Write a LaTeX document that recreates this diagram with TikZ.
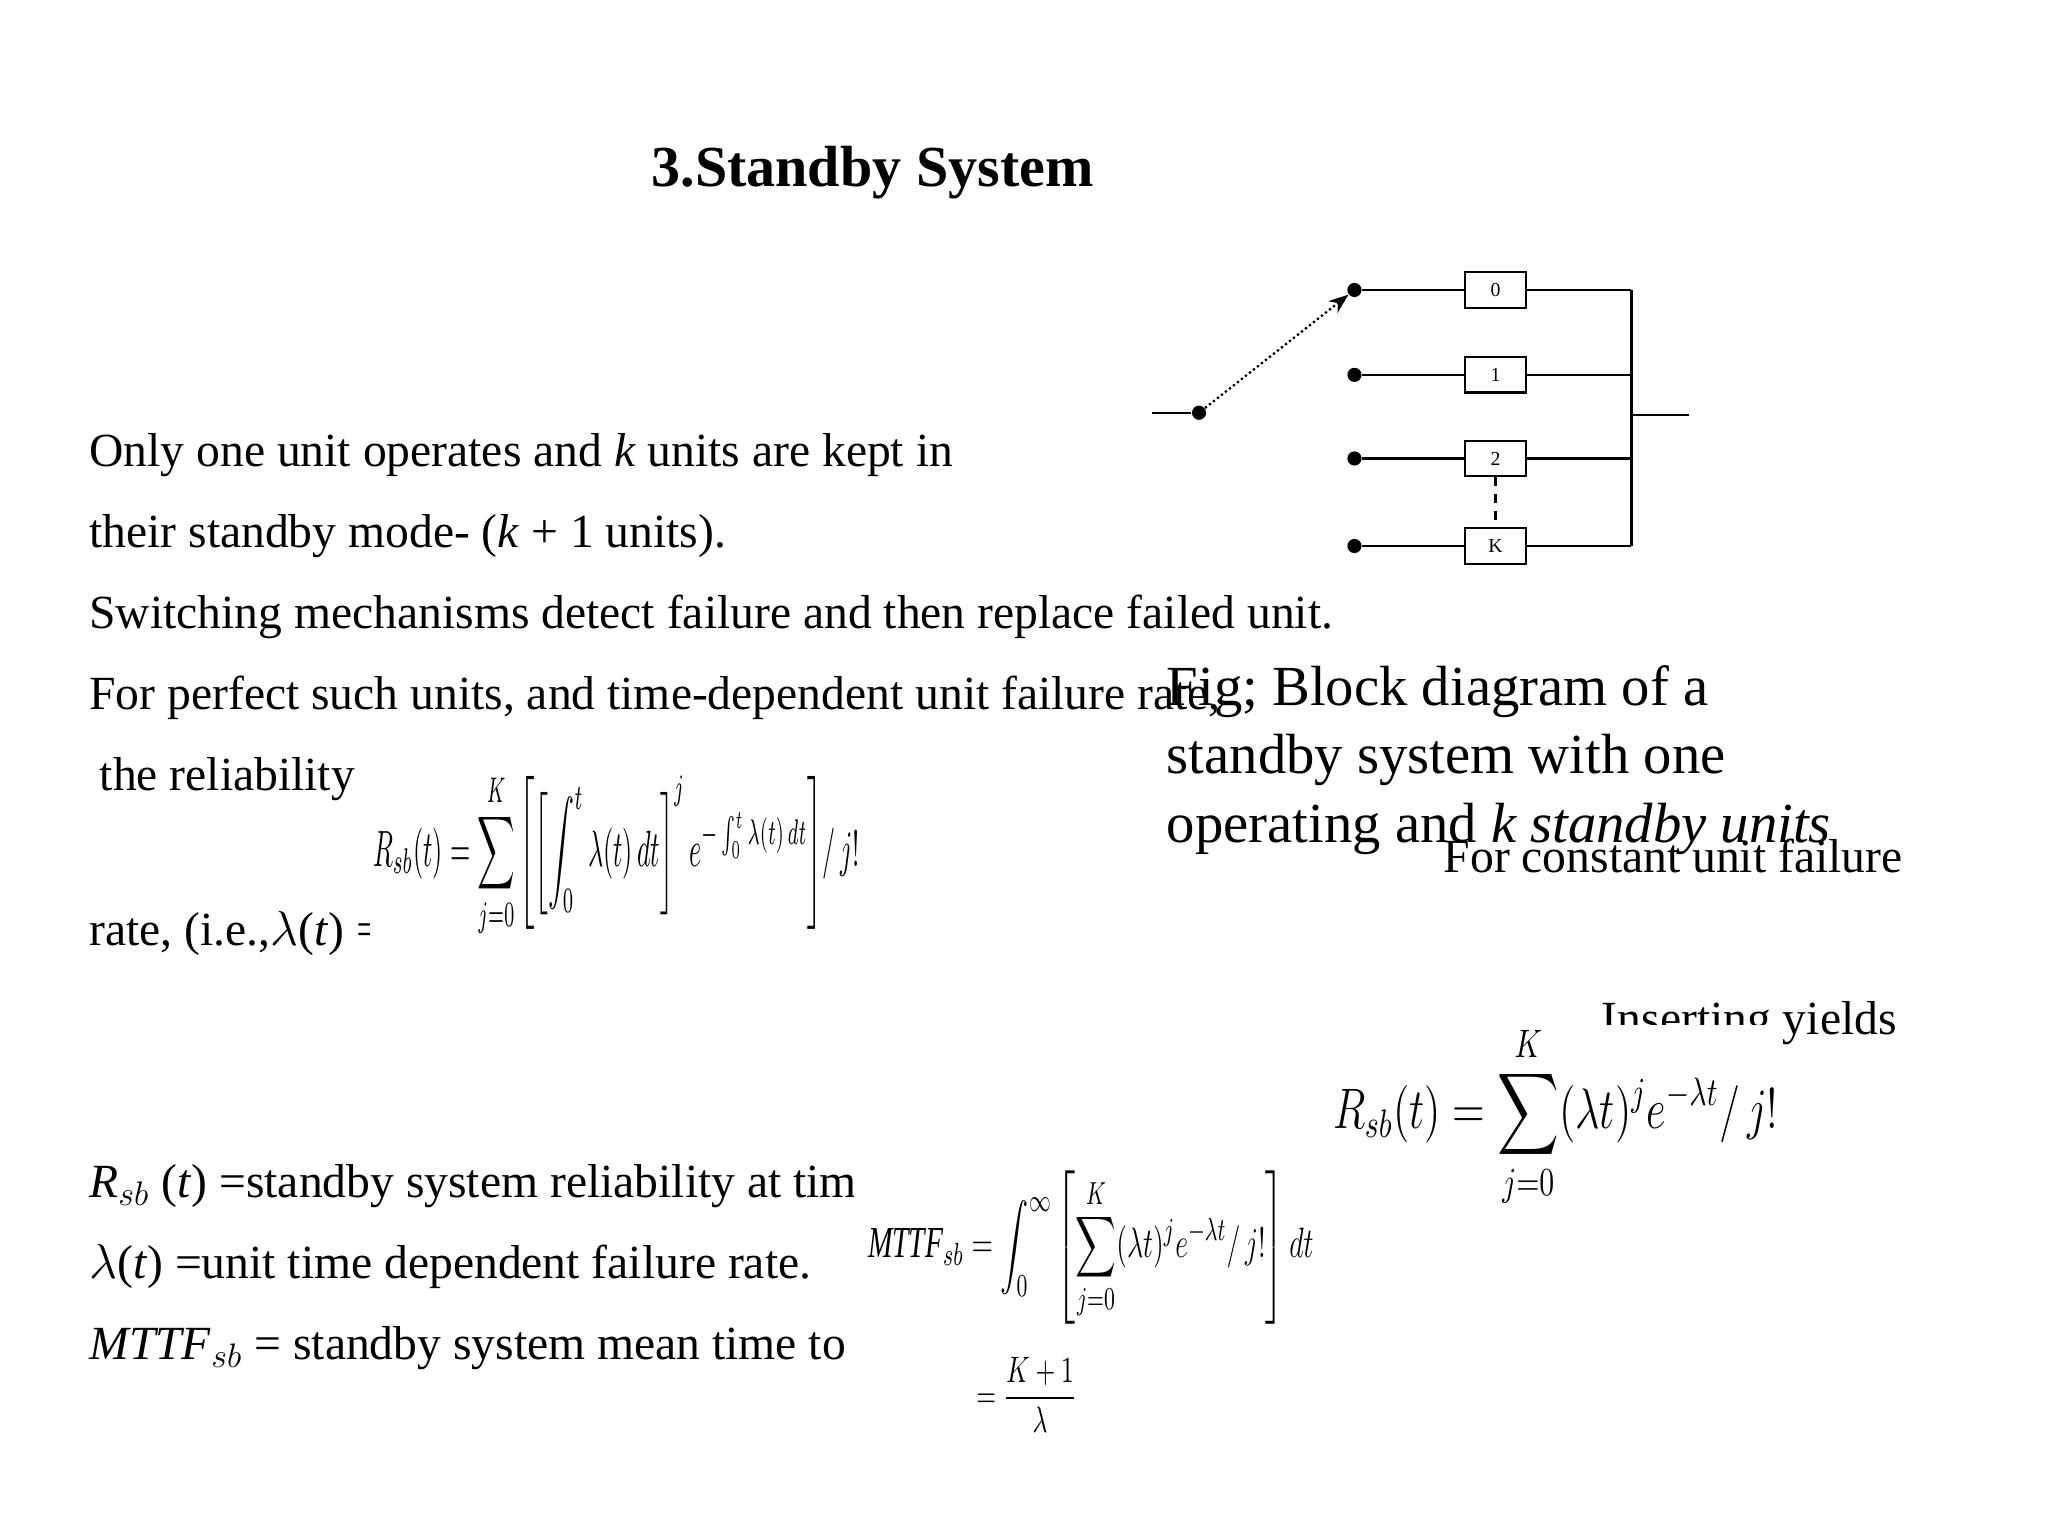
\documentclass[tikz,border=0pt]{standalone}
\usepackage{fontspec}
\setmainfont{Liberation Serif}
\usepackage{amsmath}
\usepackage{graphicx}
\usetikzlibrary{arrows.meta}
\usetikzlibrary{positioning}

\tikzset{
    body/.style={anchor=base west,inner sep=0pt,font=\fontsize{16.8}{20}\selectfont},
    caption/.style={anchor=base west,inner sep=0pt,font=\fontsize{20}{24}\selectfont},
    formula/.style={fill=white,inner sep=1pt},
    unit/.style={draw,thick,minimum width=0.76cm,minimum height=0.44cm,inner sep=0pt,font=\scriptsize},
    pin/.style={circle,fill,inner sep=0pt,minimum size=5pt},
}

\begin{document}
\begin{tikzpicture}[x=0.016199cm,y=-0.016199cm]
    \useasboundingbox (0,0) rectangle (1568,1176);

    \node[anchor=base,inner sep=0pt,font=\fontsize{20.5}{24}\selectfont\bfseries] (title) at (668,143) {3.Standby System};

    % text on the left
    \node[body] (l1) at (68,357) {Only one unit operates and \textit{k} units are kept in};
    \node[body] (l2) at (68,419) {their standby mode- (\textit{k} + 1 units).};
    \node[body] (l3) at (68,481) {Switching mechanisms detect failure and then replace failed unit.};
    \node[body] (l4) at (68,543) {For perfect such units, and time-dependent unit failure rate,};
    \node[body] (l5) at (76,605) {the reliability};
    \node[body] (l6) at (68,724) {rate, (i.e.,$\lambda$(\textit{t}) =};
    \node[body] (l7) at (68,917) {\textit{R}$_{sb}$ (\textit{t}) =standby system reliability at time};
    \node[body] (l8) at (68,979) {$\lambda$(\textit{t}) =unit time dependent failure rate.};
    \node[body] (l9) at (68,1041) {\textit{MTTF}$_{sb}$ = standby system mean time to failure};
    \fill[white] (654,880) rectangle (800,930);
    \fill[white] (654,1005) rectangle (800,1055);

    % caption
    \node[caption] (c1) at (893,540) {Fig; Block diagram of a};
    \node[caption] (c2) at (893,592) {standby system with one};
    \node[caption] (c3) at (893,645) {operating and \textit{k standby units}};
    \node[body] (c4) at (1105,668) {For constant unit failure};
    \node[body] (c5) at (1226,792) {Inserting yields};
    \fill[white] (1200,785) rectangle (1362,802);

    % formulas
    \node[formula,anchor=west] (f1) at (283,655)
        {\scalebox{0.92}[1.8]{$R_{sb}(t)=\displaystyle\sum_{j=0}^{K}\left[\left[\int_0^t \lambda(t)\,dt\right]^j e^{-\int_0^t\lambda(t)\,dt}\right]\!/\,j!$}};
    \node[formula,anchor=west,fill=none] (f2) at (1018,855)
        {\scalebox{1.05}[1.4]{\Large$R_{sb}(t)=\displaystyle\sum_{j=0}^{K}(\lambda t)^j e^{-\lambda t}/\,j!$}};
    \node[formula,anchor=west,fill=none] (f3) at (662,955)
        {\scalebox{0.83}[1.25]{\fontsize{12.5}{15}\selectfont$\mathit{MTTF}_{sb}=\displaystyle\int_0^\infty\left[\sum_{j=0}^{K}(\lambda t)^j e^{-\lambda t}/\,j!\right]dt$}};
    \node[formula,anchor=west] (f4) at (745,1068)
        {\scalebox{0.9}[1.3]{$=\dfrac{K+1}{\lambda}$}};

    % block diagram
    \node[pin] (s) at (918,316) {};
    \coordinate (in) at (882,316);
    \foreach \lab/\y/\n in {0/222/a,1/287/b,2/351/c,K/418/d} {
        \node[pin] (p\n) at (1037,\y) {};
        \node[unit] (u\n) at (1145,\y) {\lab};
        \coordinate (r\n) at (1249,\y);
        \draw[thick] (p\n) -- (u\n);
        \draw[thick] (u\n) -- (r\n);
    }
    \coordinate (m) at (1249,318);
    \coordinate (out) at (1293,318);
    \draw[thick] (ra) -- (rd);
    \draw[thick] (m) -- (out);
    \draw[thick] (in) -- (s);
    \draw[densely dotted,thick,-{Stealth[length=7pt]}] (s) -- (pa);
    \draw[thick,dashed] (uc) -- (ud);
\end{tikzpicture}
\end{document}
